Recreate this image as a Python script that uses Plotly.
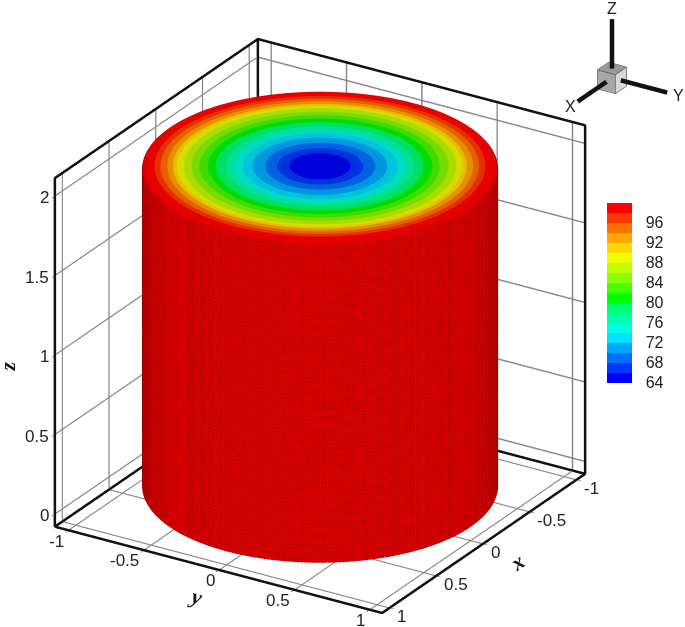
import numpy as np
import plotly.graph_objects as go

# ---- values ----
X_RANGE = [-1.09, 1.09]
Y_RANGE = [-1.09, 1.09]
Z_RANGE = [-0.08, 2.12]
XY_TICKS = [-1, -0.5, 0, 0.5, 1]
XY_LABELS = ["-1", "-0.5", "0", "0.5", "1"]
Z_TICKS = [0, 0.5, 1, 1.5, 2]
Z_LABELS = ["0", "0.5", "1", "1.5", "2"]
RADIUS = 0.985
BASE = 0.02
HEIGHT = 2.01

# temperature level of each band and outer radius (as a fraction of RADIUS) of that band on the top face
BAND_LEVELS = [64.8, 66.8, 68.8, 70.8, 72.8, 74.8, 76.8, 78.8, 80.8, 82.8, 84.8, 86.8, 88.8, 90.8, 92.8, 94.8, 96.8, 98.8]
BAND_RADII = [0.18, 0.25, 0.32, 0.385, 0.44, 0.49, 0.54, 0.59, 0.64, 0.69, 0.735, 0.78, 0.815, 0.845, 0.875, 0.905, 0.945, 1.01]
BAR_COLORS = ["#0000ff", "#0038ff", "#0070ff", "#00a8ff", "#00e0ff", "#00ffe0", "#00ffa8", "#00ff70",
              "#00ff00", "#48ff00", "#88ff00", "#c0ff00", "#f0ff00", "#ffd800", "#ffa800", "#ff7000", "#ff3800", "#ff0000"]
DISK_COLORS = ["#0000d8", "#0032e0", "#0062e0", "#0096e0", "#00c4dc", "#00dcc4", "#00e096", "#00e062",
               "#00dc00", "#40dc00", "#78dc00", "#aadc00", "#d8dc00", "#e6c000", "#e69000", "#e66000", "#e63000", "#e60000"]
BAR_MIN, BAR_STEP = 63.8, 2.0
BAR_TICKS = [64, 68, 72, 76, 80, 84, 88, 92, 96]
BAR_LABELS = ["64", "68", "72", "76", "80", "84", "88", "92", "96"]

# ---- top face and side as rings of points ----
d = 0.0115
xs, ys, zs, cs = [], [], [], []
for r in np.arange(d / 2, RADIUS + 1e-6, d):
    n = max(6, int(2 * np.pi * r / d))
    t = np.linspace(0, 2 * np.pi, n, endpoint=False) + r * 40
    level = BAND_LEVELS[min(int(np.searchsorted(BAND_RADII, r / RADIUS)), len(BAND_LEVELS) - 1)]
    xs.append(r * np.cos(t)); ys.append(r * np.sin(t)); zs.append(np.full(n, HEIGHT)); cs.append(np.full(n, level))
top_x, top_y, top_z, top_c = map(np.concatenate, (xs, ys, zs, cs))

n_theta, n_z = 320, 92
theta = np.linspace(0, 2 * np.pi, n_theta, endpoint=False)
heights = np.linspace(BASE, HEIGHT - 0.006, n_z)
tt, hh = np.meshgrid(theta, heights)
side_x, side_y, side_z = RADIUS * np.cos(tt).ravel(), RADIUS * np.sin(tt).ravel(), hh.ravel()

cmin = BAR_MIN
cmax = BAR_MIN + BAR_STEP * len(BAR_COLORS)


def stepped(colors):
    out = []
    for i, c in enumerate(colors):
        out += [[i / len(colors), c], [(i + 1) / len(colors), c]]
    return out


fig = go.Figure()
# frame edges, kept a hair inside the axis ranges so the range clipping does not eat them
inset = 0.004
x0, x1 = X_RANGE[0] + inset, X_RANGE[1] - inset
y0, y1 = Y_RANGE[0] + inset, Y_RANGE[1] - inset
z0, z1 = Z_RANGE[0] + inset, Z_RANGE[1] - inset
edges = [
    [(x1, y0, z0), (x1, y1, z0), (x0, y1, z0), (x0, y0, z0), (x1, y0, z0), (x1, y0, z1), (x0, y0, z1), (x0, y1, z1), (x0, y1, z0)],
    [(x0, y0, z0), (x0, y0, z1)],
]
ex, ey, ez = [], [], []
for e in edges:
    for p in e:
        ex.append(p[0]); ey.append(p[1]); ez.append(p[2])
    ex.append(None); ey.append(None); ez.append(None)
fig.add_trace(go.Scatter3d(x=ex, y=ey, z=ez, mode="lines", line=dict(color="#111111", width=5),
                           hoverinfo="skip", showlegend=False))
fig.add_trace(go.Scatter3d(x=side_x, y=side_y, z=side_z, mode="markers",
                           marker=dict(size=3.8, color="#e00000", line=dict(width=0.4, color="#a00000")),
                           hoverinfo="skip", showlegend=False))
fig.add_trace(go.Scatter3d(x=top_x, y=top_y, z=top_z, mode="markers",
                           marker=dict(size=3.4, color=top_c, colorscale=stepped(DISK_COLORS), cmin=cmin, cmax=cmax,
                                       showscale=False),
                           hoverinfo="skip", showlegend=False))
# carrier of the colour bar (a single point at the centre of the top face)
fig.add_trace(go.Scatter3d(x=[0], y=[0], z=[HEIGHT], mode="markers",
                           marker=dict(size=1, color=[BAND_LEVELS[0]], colorscale=stepped(BAR_COLORS), cmin=cmin, cmax=cmax,
                                       colorbar=dict(x=607 / 685, xanchor="left", y=(627 - 293) / 627, yanchor="middle",
                                                     lenmode="pixels", len=180, thicknessmode="pixels", thickness=25,
                                                     outlinewidth=0, tickvals=BAR_TICKS, ticktext=BAR_LABELS,
                                                     ticks="outside", ticklen=11, tickcolor="rgba(0,0,0,0)",
                                                     tickfont=dict(family="Liberation Sans", size=16, color="#222222"),
                                                     xpad=0, ypad=0)),
                           hoverinfo="skip", showlegend=False))

# orientation triad
TRIAD_AXES = ["X", "Y", "Z"]
TRIAD_ENDS = [(1, 0, 0), (0, 1, 0), (0, 0, 1)]
triad_font = dict(family="Liberation Sans", size=16, color="#222222")
triad_notes = []
for name, e in zip(TRIAD_AXES, TRIAD_ENDS):
    fig.add_trace(go.Scatter3d(x=[0, e[0]], y=[0, e[1]], z=[0, e[2]], mode="lines", scene="scene2",
                               line=dict(color="#111111", width=9), hoverinfo="skip", showlegend=False))
    triad_notes.append(dict(x=e[0] * 1.2, y=e[1] * 1.2, z=e[2] * 1.18, text=name, showarrow=False, font=triad_font))
c = 0.16
cube_x = [-c, c, c, -c, -c, c, c, -c]
cube_y = [-c, -c, c, c, -c, -c, c, c]
cube_z = [-c, -c, -c, -c, c, c, c, c]
I = [4, 4, 1, 1, 2, 2]
J = [5, 6, 2, 6, 3, 7]
K = [6, 7, 6, 5, 7, 6]
face_colors = ["#9c9c9c", "#9c9c9c", "#a8a8a8", "#a8a8a8", "#d8d8d8", "#d8d8d8"]
fig.add_trace(go.Mesh3d(x=cube_x, y=cube_y, z=cube_z, i=I, j=J, k=K, facecolor=face_colors, flatshading=True,
                        lighting=dict(ambient=1, diffuse=0, specular=0), scene="scene2", hoverinfo="skip", showlegend=False))
CUBE_PATH = [1, 2, 3, 7, 4, 5, 1, None, 5, 6, 7, None, 6, 2]
fig.add_trace(go.Scatter3d(x=[None if i is None else cube_x[i] * 1.005 for i in CUBE_PATH],
                           y=[None if i is None else cube_y[i] * 1.005 for i in CUBE_PATH],
                           z=[None if i is None else cube_z[i] * 1.005 for i in CUBE_PATH],
                           mode="lines", scene="scene2", line=dict(color="#666666", width=2),
                           hoverinfo="skip", showlegend=False))

DIR = (0.769, 0.477, 0.425)
EYE = 6.0
MAIN_ASPECT = 1.284
TRIAD_ASPECT = 2.5
camera = dict(projection=dict(type="orthographic"), eye=dict(x=DIR[0] * EYE, y=DIR[1] * EYE, z=DIR[2] * EYE),
              center=dict(x=0, y=0, z=0), up=dict(x=0, y=0, z=1))

tick_font = dict(family="Liberation Sans", size=17, color="#222222")
title_font = dict(family="Liberation Serif", size=22, color="#111111")
common = dict(showbackground=False, showgrid=True, gridcolor="#888888", gridwidth=3, showline=False,
              zeroline=False, showspikes=False, ticks="outside", ticklen=4, tickcolor="#111111",
              showticklabels=False, autorange=False, title=dict(text=""))

notes = []
for v, s in zip(XY_TICKS, XY_LABELS):
    notes.append(dict(x=x1, y=v, z=z0, text=s, showarrow=False, xanchor="right", yanchor="middle", xshift=-2, yshift=-11, font=tick_font))
    notes.append(dict(x=v, y=y1, z=z0, text=s, showarrow=False, xanchor="left", yanchor="middle", xshift=5, yshift=-9, font=tick_font))
for v, s in zip(Z_TICKS, Z_LABELS):
    notes.append(dict(x=x1, y=y0, z=v, text=s, showarrow=False, xanchor="right", yanchor="middle", xshift=-4, yshift=-1, font=tick_font))
notes.append(dict(x=0, y=y1, z=z0, text="<b><i>x</i></b>", showarrow=False, xshift=33, yshift=-19, textangle=-35, font=title_font))
notes.append(dict(x=x1, y=0, z=z0, text="<b><i>y</i></b>", showarrow=False, xshift=-23, yshift=-27, textangle=15, font=title_font))
notes.append(dict(x=x1, y=y0, z=1, text="<b><i>z</i></b>", showarrow=False, xshift=-47, yshift=-11, textangle=-90, font=title_font))

fig.update_layout(
    width=685, height=627, margin=dict(l=0, r=0, t=0, b=0), paper_bgcolor="white", showlegend=False,
    scene=dict(
        domain=dict(x=[0, 640 / 685], y=[0, 602 / 627]), camera=camera, aspectmode="manual",
        aspectratio=dict(x=MAIN_ASPECT, y=MAIN_ASPECT, z=MAIN_ASPECT), annotations=notes,
        xaxis=dict(common, range=X_RANGE, tickvals=XY_TICKS, ticktext=XY_LABELS),
        yaxis=dict(common, range=Y_RANGE, tickvals=XY_TICKS, ticktext=XY_LABELS),
        zaxis=dict(common, range=Z_RANGE, tickvals=Z_TICKS, ticktext=Z_LABELS),
    ),
    scene2=dict(
        domain=dict(x=[539 / 685, 685 / 685], y=[(627 - 156) / 627, 1]),
        camera=camera, aspectmode="manual", aspectratio=dict(x=TRIAD_ASPECT, y=TRIAD_ASPECT, z=TRIAD_ASPECT),
        annotations=triad_notes,
        xaxis=dict(visible=False, range=[-1.5, 1.5]),
        yaxis=dict(visible=False, range=[-1.5, 1.5]),
        zaxis=dict(visible=False, range=[-1.5, 1.5]),
    ),
)
fig.write_html("out.html", config={"displayModeBar": False}, post_script="document.body.style.margin='0';")
